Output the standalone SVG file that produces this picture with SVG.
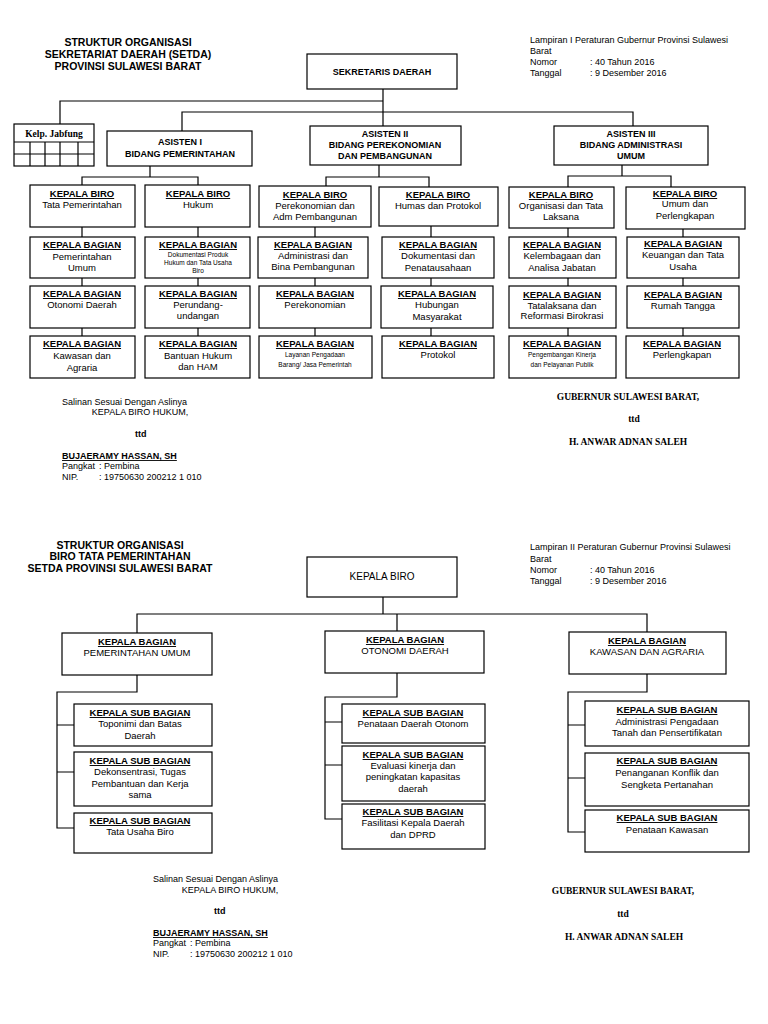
<svg xmlns="http://www.w3.org/2000/svg" width="768" height="1024" viewBox="0 0 768 1024">
<style>
text{font-family:"Liberation Sans",Arial,sans-serif;fill:#000}
.b{fill:#fff;stroke:#000;stroke-width:1.2}
.l{fill:none;stroke:#000;stroke-width:1.2}
.t{font-size:10.5px;font-weight:bold}
.h{font-size:9.5px;font-weight:bold;text-decoration:underline;text-anchor:middle}
.d{font-size:9.5px;text-anchor:middle}
.s{font-size:6.5px;text-anchor:middle}
.a{font-size:9px;font-weight:bold;text-anchor:middle}
.n{font-size:9px}
.sf{font-family:"Liberation Serif",serif;font-size:9.5px;font-weight:bold;text-anchor:middle}
.c{font-size:9px;text-anchor:middle}
</style>
<rect width="768" height="1024" fill="#fff"/>
<g id="connectors">
<path class="l" d="M383 89V126M383 101H60V124M182 131V112H633V126"/>
<path class="l" d="M150 166V177M82 185V177H198V185M379 165V177M326 186V177H429V187M622 165V176M568 187V176H671V187"/>
<path class="l" d="M82 227V237M82 278V286M82 328V336M198 227V237M198 278V286M198 328V336M315 227V237M315 278V286M315 328V336M431 226V237M431 278V286M431 328V336M568 228V237M568 278V286M568 328V336M683 229V237M683 278V286M683 328V336"/>
<path class="l" d="M383 597V614M137 633V614H647V632M397 614V631"/>
<path class="l" d="M137 675V692H57V828H74M57 725H74M57 772H74"/>
<path class="l" d="M397 673V697H325V819H342M325 722H342M325 765H342"/>
<path class="l" d="M647 674V692H568V832H585M568 725H585M568 778H585"/>
</g>
<g id="title1"><text class="t" x="128" y="46" text-anchor="middle">STRUKTUR ORGANISASI</text><text class="t" x="128" y="58" text-anchor="middle">SEKRETARIAT DAERAH (SETDA)</text><text class="t" x="128" y="70" text-anchor="middle">PROVINSI SULAWESI BARAT</text></g>
<g id="lampiran1"><text class="n" x="530" y="43">Lampiran I Peraturan Gubernur Provinsi Sulawesi</text><text class="n" x="530" y="54">Barat</text><text class="n" x="530" y="65">Nomor</text><text class="n" x="590" y="65">: 40 Tahun 2016</text><text class="n" x="530" y="76">Tanggal</text><text class="n" x="590" y="76">: 9 Desember 2016</text></g>
<g id="sekda"><rect class="b" x="307" y="54" width="150" height="35"/><text class="a" x="382" y="75" font-size="10">SEKRETARIS DAERAH</text></g>
<g id="jabfung"><rect class="b" x="14" y="124" width="80" height="42"/><path class="l" d="M14 142H94M14 154H94M30 142V166M45 142V166M60 142V166M78 142V166"/><text class="sf" x="54" y="137">Kelp. Jabfung</text></g>
<g id="asisten1"><rect class="b" x="107" y="131" width="145" height="35"/><text class="a" x="180" y="145">ASISTEN I</text><text class="a" x="180" y="157">BIDANG PEMERINTAHAN</text></g>
<g id="asisten2"><rect class="b" x="310" y="126" width="151" height="39"/><text class="a" x="385" y="137">ASISTEN II</text><text class="a" x="385" y="148">BIDANG PEREKONOMIAN</text><text class="a" x="385" y="159">DAN PEMBANGUNAN</text></g>
<g id="asisten3"><rect class="b" x="554" y="126" width="154" height="39"/><text class="a" x="631" y="137">ASISTEN III</text><text class="a" x="631" y="148">BIDANG ADMINISTRASI</text><text class="a" x="631" y="159">UMUM</text></g>
<g id="biro1"><rect class="b" x="30" y="185" width="105" height="42"/><text class="h" x="82" y="197">KEPALA BIRO</text><text class="d" x="82" y="208" font-size="8.5">Tata Pemerintahan</text></g>
<g id="biro2"><rect class="b" x="145" y="185" width="105" height="42"/><text class="h" x="198" y="197">KEPALA BIRO</text><text class="d" x="198" y="208" font-size="8.5">Hukum</text></g>
<g id="biro3"><rect class="b" x="259" y="186" width="112" height="41"/><text class="h" x="315" y="198">KEPALA BIRO</text><text class="d" x="315" y="209" font-size="8.5">Perekonomian dan</text><text class="d" x="315" y="220" font-size="8.5">Adm Pembangunan</text></g>
<g id="biro4"><rect class="b" x="379" y="187" width="119" height="39"/><text class="h" x="438" y="198">KEPALA BIRO</text><text class="d" x="438" y="209" font-size="8.5">Humas dan Protokol</text></g>
<g id="biro5"><rect class="b" x="509" y="187" width="105" height="41"/><text class="h" x="561" y="198">KEPALA BIRO</text><text class="d" x="561" y="209" font-size="8.5">Organisasi dan Tata</text><text class="d" x="561" y="220" font-size="8.5">Laksana</text></g>
<g id="biro6"><rect class="b" x="626" y="187" width="119" height="42"/><text class="h" x="685" y="197">KEPALA BIRO</text><text class="d" x="685" y="207" font-size="8.5">Umum dan</text><text class="d" x="685" y="219" font-size="8.5">Perlengkapan</text></g>
<g id="b1a"><rect class="b" x="30" y="237" width="105" height="41"/><text class="h" x="82" y="248">KEPALA BAGIAN</text><text class="d" x="82" y="260">Pemerintahan</text><text class="d" x="82" y="271">Umum</text></g>
<g id="b1b"><rect class="b" x="30" y="286" width="105" height="42"/><text class="h" x="82" y="297">KEPALA BAGIAN</text><text class="d" x="82" y="308">Otonomi Daerah</text></g>
<g id="b1c"><rect class="b" x="30" y="336" width="105" height="42"/><text class="h" x="82" y="347">KEPALA BAGIAN</text><text class="d" x="82" y="359">Kawasan dan</text><text class="d" x="82" y="371">Agraria</text></g>
<g id="b2a"><rect class="b" x="145" y="237" width="105" height="41"/><text class="h" x="198" y="248">KEPALA BAGIAN</text><text class="s" x="198" y="257">Dokumentasi Produk</text><text class="s" x="198" y="265">Hukum dan Tata Usaha</text><text class="s" x="198" y="273">Biro</text></g>
<g id="b2b"><rect class="b" x="145" y="286" width="105" height="42"/><text class="h" x="198" y="297">KEPALA BAGIAN</text><text class="d" x="198" y="308">Perundang-</text><text class="d" x="198" y="319">undangan</text></g>
<g id="b2c"><rect class="b" x="145" y="336" width="105" height="42"/><text class="h" x="198" y="347">KEPALA BAGIAN</text><text class="d" x="198" y="359">Bantuan Hukum</text><text class="d" x="198" y="370">dan HAM</text></g>
<g id="b3a"><rect class="b" x="258" y="237" width="110" height="41"/><text class="h" x="313" y="248">KEPALA BAGIAN</text><text class="d" x="313" y="259">Administrasi dan</text><text class="d" x="313" y="270">Bina Pembangunan</text></g>
<g id="b3b"><rect class="b" x="259" y="286" width="112" height="42"/><text class="h" x="315" y="297">KEPALA BAGIAN</text><text class="d" x="315" y="308">Perekonomian</text></g>
<g id="b3c"><rect class="b" x="259" y="336" width="113" height="42"/><text class="h" x="315" y="347">KEPALA BAGIAN</text><text class="s" x="315" y="357">Layanan Pengadaan</text><text class="s" x="315" y="367">Barang/ Jasa Pemerintah</text></g>
<g id="b4a"><rect class="b" x="382" y="237" width="112" height="41"/><text class="h" x="438" y="248">KEPALA BAGIAN</text><text class="d" x="438" y="259">Dokumentasi dan</text><text class="d" x="438" y="271">Penatausahaan</text></g>
<g id="b4b"><rect class="b" x="381" y="286" width="112" height="42"/><text class="h" x="437" y="297">KEPALA BAGIAN</text><text class="d" x="437" y="308">Hubungan</text><text class="d" x="437" y="320">Masyarakat</text></g>
<g id="b4c"><rect class="b" x="382" y="336" width="112" height="42"/><text class="h" x="438" y="347">KEPALA BAGIAN</text><text class="d" x="438" y="358">Protokol</text></g>
<g id="b5a"><rect class="b" x="509" y="237" width="107" height="41"/><text class="h" x="562" y="248">KEPALA BAGIAN</text><text class="d" x="562" y="259">Kelembagaan dan</text><text class="d" x="562" y="271">Analisa Jabatan</text></g>
<g id="b5b"><rect class="b" x="509" y="286" width="107" height="42"/><text class="h" x="562" y="298">KEPALA BAGIAN</text><text class="d" x="562" y="309" font-size="8.5">Tatalaksana dan</text><text class="d" x="562" y="319" font-size="8.5">Reformasi Birokrasi</text></g>
<g id="b5c"><rect class="b" x="509" y="336" width="107" height="42"/><text class="h" x="562" y="347">KEPALA BAGIAN</text><text class="s" x="562" y="357" font-size="7">Pengembangan Kinerja</text><text class="s" x="562" y="367" font-size="7">dan Pelayanan Publik</text></g>
<g id="b6a"><rect class="b" x="627" y="237" width="112" height="41"/><text class="h" x="683" y="247">KEPALA BAGIAN</text><text class="d" x="683" y="258">Keuangan dan Tata</text><text class="d" x="683" y="270">Usaha</text></g>
<g id="b6b"><rect class="b" x="627" y="286" width="112" height="42"/><text class="h" x="683" y="298">KEPALA BAGIAN</text><text class="d" x="683" y="309">Rumah Tangga</text></g>
<g id="b6c"><rect class="b" x="626" y="336" width="113" height="42"/><text class="h" x="682" y="347">KEPALA BAGIAN</text><text class="d" x="682" y="358">Perlengkapan</text></g>
<g id="sign1"><text class="n" x="62" y="405">Salinan Sesuai Dengan Aslinya</text><text class="c" x="140" y="415">KEPALA BIRO HUKUM,</text><text class="n" x="135" y="437" font-weight="bold">ttd</text><text class="n" x="62" y="459" font-weight="bold" text-decoration="underline">BUJAERAMY HASSAN, SH</text><text class="n" x="62" y="469">Pangkat</text><text class="n" x="99" y="469">: Pembina</text><text class="n" x="62" y="480">NIP.</text><text class="n" x="99" y="480">: 19750630 200212 1 010</text></g>
<g id="gub1"><text class="sf" x="628" y="400">GUBERNUR SULAWESI BARAT,</text><text class="sf" x="634" y="422">ttd</text><text class="sf" x="628" y="445">H. ANWAR ADNAN SALEH</text></g>
<g id="title2"><text class="t" x="120" y="549" text-anchor="middle">STRUKTUR ORGANISASI</text><text class="t" x="120" y="560" text-anchor="middle">BIRO TATA PEMERINTAHAN</text><text class="t" x="120" y="572" text-anchor="middle">SETDA PROVINSI SULAWESI BARAT</text></g>
<g id="lampiran2"><text class="n" x="530" y="550">Lampiran II Peraturan Gubernur Provinsi Sulawesi</text><text class="n" x="530" y="562">Barat</text><text class="n" x="530" y="573">Nomor</text><text class="n" x="590" y="573">: 40 Tahun 2016</text><text class="n" x="530" y="584">Tanggal</text><text class="n" x="590" y="584">: 9 Desember 2016</text></g>
<g id="kabiro"><rect class="b" x="307" y="557" width="150" height="40"/><text x="382" y="580" font-size="10" text-anchor="middle">KEPALA BIRO</text></g>
<g id="k1"><rect class="b" x="62" y="633" width="150" height="42"/><text class="h" x="137" y="645">KEPALA BAGIAN</text><text class="d" x="137" y="656">PEMERINTAHAN UMUM</text></g>
<g id="k2"><rect class="b" x="325" y="631" width="159" height="42"/><text class="h" x="405" y="643">KEPALA BAGIAN</text><text class="d" x="405" y="654">OTONOMI DAERAH</text></g>
<g id="k3"><rect class="b" x="569" y="632" width="157" height="42"/><text class="h" x="647" y="644">KEPALA BAGIAN</text><text class="d" x="647" y="655">KAWASAN DAN AGRARIA</text></g>
<g id="s1"><rect class="b" x="74" y="704" width="138" height="42"/><text class="h" x="140" y="716">KEPALA SUB BAGIAN</text><text class="d" x="140" y="727">Toponimi dan Batas</text><text class="d" x="140" y="739">Daerah</text></g>
<g id="s2"><rect class="b" x="74" y="752" width="138" height="54"/><text class="h" x="140" y="764">KEPALA SUB BAGIAN</text><text class="d" x="140" y="775" font-size="8.5">Dekonsentrasi, Tugas</text><text class="d" x="140" y="787" font-size="8.5">Pembantuan dan Kerja</text><text class="d" x="140" y="798" font-size="8.5">sama</text></g>
<g id="s3"><rect class="b" x="74" y="813" width="138" height="40"/><text class="h" x="140" y="824">KEPALA SUB BAGIAN</text><text class="d" x="140" y="835">Tata Usaha Biro</text></g>
<g id="s4"><rect class="b" x="342" y="704" width="143" height="39"/><text class="h" x="413" y="716">KEPALA SUB BAGIAN</text><text class="d" x="413" y="727">Penataan Daerah Otonom</text></g>
<g id="s5"><rect class="b" x="342" y="746" width="143" height="55"/><text class="h" x="413" y="758">KEPALA SUB BAGIAN</text><text class="d" x="413" y="769">Evaluasi kinerja dan</text><text class="d" x="413" y="780">peningkatan kapasitas</text><text class="d" x="413" y="792">daerah</text></g>
<g id="s6"><rect class="b" x="342" y="804" width="143" height="45"/><text class="h" x="413" y="815">KEPALA SUB BAGIAN</text><text class="d" x="413" y="826">Fasilitasi Kepala Daerah</text><text class="d" x="413" y="838">dan DPRD</text></g>
<g id="s7"><rect class="b" x="585" y="701" width="164" height="45"/><text class="h" x="667" y="713">KEPALA SUB BAGIAN</text><text class="d" x="667" y="725">Administrasi Pengadaan</text><text class="d" x="667" y="736">Tanah dan Pensertifikatan</text></g>
<g id="s8"><rect class="b" x="585" y="753" width="164" height="53"/><text class="h" x="667" y="764">KEPALA SUB BAGIAN</text><text class="d" x="667" y="776">Penanganan Konflik dan</text><text class="d" x="667" y="788">Sengketa Pertanahan</text></g>
<g id="s9"><rect class="b" x="585" y="810" width="164" height="42"/><text class="h" x="667" y="821">KEPALA SUB BAGIAN</text><text class="d" x="667" y="833">Penataan Kawasan</text></g>
<g id="sign2"><text class="n" x="153" y="882">Salinan Sesuai Dengan Aslinya</text><text class="c" x="230" y="893">KEPALA BIRO HUKUM,</text><text class="n" x="214" y="914" font-weight="bold">ttd</text><text class="n" x="153" y="936" font-weight="bold" text-decoration="underline">BUJAERAMY HASSAN, SH</text><text class="n" x="153" y="946">Pangkat</text><text class="n" x="190" y="946">: Pembina</text><text class="n" x="153" y="957">NIP.</text><text class="n" x="190" y="957">: 19750630 200212 1 010</text></g>
<g id="gub2"><text class="sf" x="623" y="894">GUBERNUR SULAWESI BARAT,</text><text class="sf" x="623" y="917">ttd</text><text class="sf" x="624" y="940">H. ANWAR ADNAN SALEH</text></g>
</svg>
